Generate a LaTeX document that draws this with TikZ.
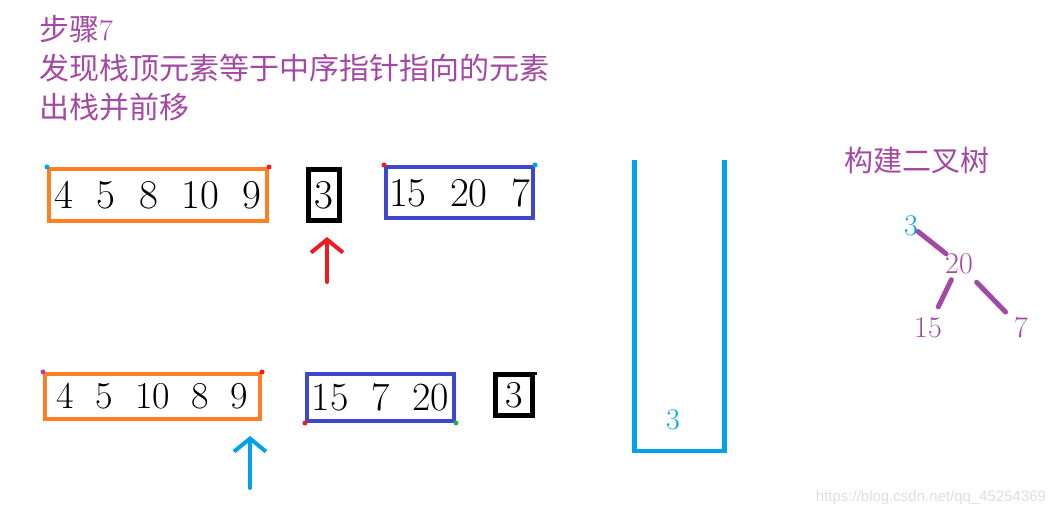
\documentclass[tikz,border=0pt]{standalone}
\usepackage{fontspec}
\newfontfamily\cjk{Noto Sans CJK SC}
\newfontfamily\urlfont{Liberation Sans}
\usepackage{xcolor}
\usetikzlibrary{arrows.meta}
\definecolor{paintorange}{RGB}{255,127,39}
\definecolor{paintblue}{RGB}{63,72,204}
\definecolor{paintred}{RGB}{237,28,36}
\definecolor{paintcyan}{RGB}{0,162,232}
\definecolor{paintpurple}{RGB}{163,73,164}
\definecolor{paintgreen}{RGB}{34,177,76}
\newcommand{\numgap}{\hspace{0.57em}}

\begin{document}
\begin{tikzpicture}[x=1pt,y=-1pt,line cap=round,line join=round,
  title/.style={anchor=west,inner sep=0pt,text=paintpurple,font=\fontsize{30}{30}\selectfont\cjk},
  numbox/.style={draw,line width=4pt,line cap=butt,line join=miter,inner sep=0pt,font=\fontsize{41}{41}\selectfont},
  smallnum/.style={font=\fontsize{38}{38}\selectfont},
  treenum/.style={inner sep=0pt,text=paintpurple,font=\fontsize{30}{30}\selectfont},
  pointer/.style={line width=4pt,-{Straight Barb[length=13pt,width=32pt]}},
  treeedge/.style={line width=5pt,paintpurple},
  dot/.style={radius=2.5pt}]
\useasboundingbox (0,0) rectangle (1063,518);

\node[title] (step) at (39,29) {步骤\fontspec{Latin Modern Roman}7};
\node[title] (line2) at (39,68) {发现栈顶元素等于中序指针指向的元素};
\node[title] (line3) at (39,107) {出栈并前移};

\node[numbox,paintorange,text=black,minimum width=218,minimum height=52] (pre1) at (158,195) {4\numgap 5\numgap 8\numgap 10\numgap 9};
\node[numbox,line width=5pt,minimum width=31,minimum height=51] (top1) at (324,195) {3};
\node[numbox,paintblue,text=black,minimum width=147,minimum height=51] (post1) at (459.5,192.5) {15\numgap 20\numgap 7};

\node[numbox,smallnum,paintorange,text=black,minimum width=215,minimum height=45] (pre2) at (152.5,396.5) {4\numgap 5\numgap 10\numgap 8\numgap 9};
\node[numbox,paintblue,text=black,font=\fontsize{40}{40}\selectfont,minimum width=147,minimum height=47] (post2) at (380.5,397.5) {15\numgap 7\numgap 20};
\node[numbox,smallnum,line width=5pt,minimum width=37,minimum height=41] (top2) at (514,395) {3};
\draw[line width=3pt,line cap=butt] (top2.north east) -- ++(0,3);

\fill[paintcyan] (pre1.north west) circle[dot];
\fill[paintred] (pre1.north east) circle[dot];
\fill[paintred] (post1.north west) circle[dot];
\fill[paintcyan] (post1.north east) circle[dot];
\fill[paintpurple] (pre2.north west) circle[dot];
\fill[paintred] (pre2.north east) circle[dot];
\fill[paintred] (post2.south west) circle[dot];
\fill[paintgreen] (post2.south east) circle[dot];

\coordinate (redtail) at (327,282);
\coordinate (redtip) at ([xshift=3pt,yshift=-14pt]top1.south);
\draw[pointer,paintred] (redtail) -- (redtip);
\coordinate (bluetail) at (250,488);
\coordinate (bluetip) at ([xshift=-12pt,yshift=-15pt]pre2.south east);
\draw[pointer,paintcyan] (bluetail) -- (bluetip);

\draw[line width=4.5pt,paintcyan,line cap=butt,line join=miter] (634.5,160) -- (634.5,451) -- (724.5,451) -- (724.5,160);
\node[treenum,text=paintcyan] (stk) at (673,420) {3};

\node[title,anchor=center,font=\fontsize{29}{29}\selectfont\cjk] (build) at (917,160) {构建二叉树};
\node[treenum,text=paintcyan] (t3) at (911,226) {3};
\node[treenum] (t20) at (959,264) {20};
\node[treenum] (t15) at (928,328) {15};
\node[treenum] (t7) at (1021,328) {7};
\draw[treeedge] (t3) -- (t20);
\draw[treeedge,shorten <=6pt,shorten >=12pt] (t20) -- (t15);
\draw[treeedge,shorten <=11pt,shorten >=12pt] (t20) -- (t7);

\node[text=black!13,font=\fontsize{15}{15}\selectfont\urlfont] (mark) at (931,498) {https://blog.csdn.net/qq\_45254369};
\end{tikzpicture}
\end{document}
